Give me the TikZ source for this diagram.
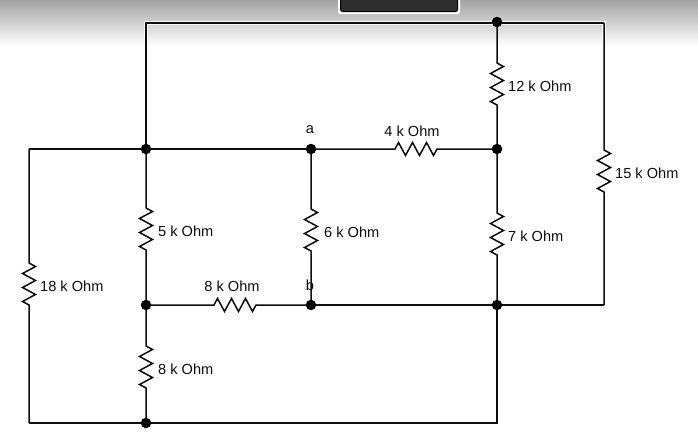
\documentclass[tikz,border=0pt]{standalone}
\usepackage{fontspec}
\setmainfont{Liberation Sans}
\usetikzlibrary{decorations.pathmorphing,backgrounds}
\tikzset{
  wire/.style={line width=1.5pt,draw=black!95,line join=miter},
  halo/.style={line width=4.2pt,draw=white,opacity=.8},
  res/.style 2 args={wire,decorate,decoration={zigzag,segment length=14pt,amplitude=6.5pt,pre length=#1pt,post length=#2pt}},
  dot/.style={circle,fill=black,inner sep=0pt,minimum size=10.5pt},
  lab/.style={font=\fontsize{14.6}{16}\selectfont,inner sep=0pt,text=black!95}
}
\begin{document}
\begin{tikzpicture}[x=1pt,y=-1pt]
\useasboundingbox (0,0) rectangle (698,431);
% junctions and corners
\node[dot] (T) at (497,22) {};
\node[dot] (A0) at (146,149) {};
\node[dot] (A) at (311,149) {};
\node[dot] (C) at (497,149) {};
\node[dot] (L) at (146,305) {};
\node[dot] (B) at (311,305) {};
\node[dot] (D) at (497,305) {};
\node[dot] (G) at (146,423) {};
\coordinate (TL) at (146,23);
\coordinate (TT) at (497,23);
\coordinate (TR) at (604,23);
\coordinate (HL) at (146,46);
\coordinate (HR) at (604,46);
\coordinate (R) at (604,305);
\coordinate (LT) at (29,149);
\coordinate (LB) at (29,423);
\coordinate (DB) at (497,423);
\begin{pgfonlayer}{background}
\fill[white] (0,0) rectangle (698,431);
\shade[top color=black!36,bottom color=white] (0,0) rectangle (698,46);
% black panel
\fill[white,rounded corners=2pt] (338,-4) rectangle (460,14);
\fill[black!82,draw=black,line width=1pt,rounded corners=1.5pt] (340.5,-4) rectangle (457.5,11.5);
% halo of the top wires
\draw[halo] (HL) -- (TL) -- (TR) -- (HR);
% plain wires
\draw[wire] (A0.center) -- (TL) -- (TR);
\draw[wire] (LT) -- (A0.center);
\draw[wire] (A0.center) -- (A.center);
\draw[wire] (B.center) -- (D.center);
\draw[wire] (D.center) -- (R);
\draw[wire] (D.center) -- (DB) -- (LB);
% resistors
\draw[res={40}{44}] (TT) -- (C.center);
\draw[res={84}{60}] (A.center) -- (C.center);
\draw[res={127}{108}] (TR) -- (R);
\draw[res={59}{53}] (A0.center) -- (L.center);
\draw[res={60}{53}] (A.center) -- (B.center);
\draw[res={64}{47}] (C.center) -- (D.center);
\draw[res={68}{54}] (L.center) -- (B.center);
\draw[res={41}{33}] (L.center) -- (G.center);
\draw[res={114}{113}] (LT) -- (LB);
\end{pgfonlayer}
% labels
\node[lab,anchor=west] (l12) at (508,86) {12 k Ohm};
\node[lab] (l4) at (412,131) {4 k Ohm};
\node[lab,anchor=west] (l15) at (615,173) {15 k Ohm};
\node[lab,anchor=west] (l5) at (158,231) {5 k Ohm};
\node[lab,anchor=west] (l6) at (324,232) {6 k Ohm};
\node[lab,anchor=west] (l7) at (508,236) {7 k Ohm};
\node[lab,anchor=west] (l18) at (40,286) {18 k Ohm};
\node[lab] (l8h) at (232,286) {8 k Ohm};
\node[lab,anchor=west] (l8v) at (158,369) {8 k Ohm};
\node[lab] (la) at (310,130) {a};
\node[lab] (lb) at (310,285) {b};
\end{tikzpicture}
\end{document}
